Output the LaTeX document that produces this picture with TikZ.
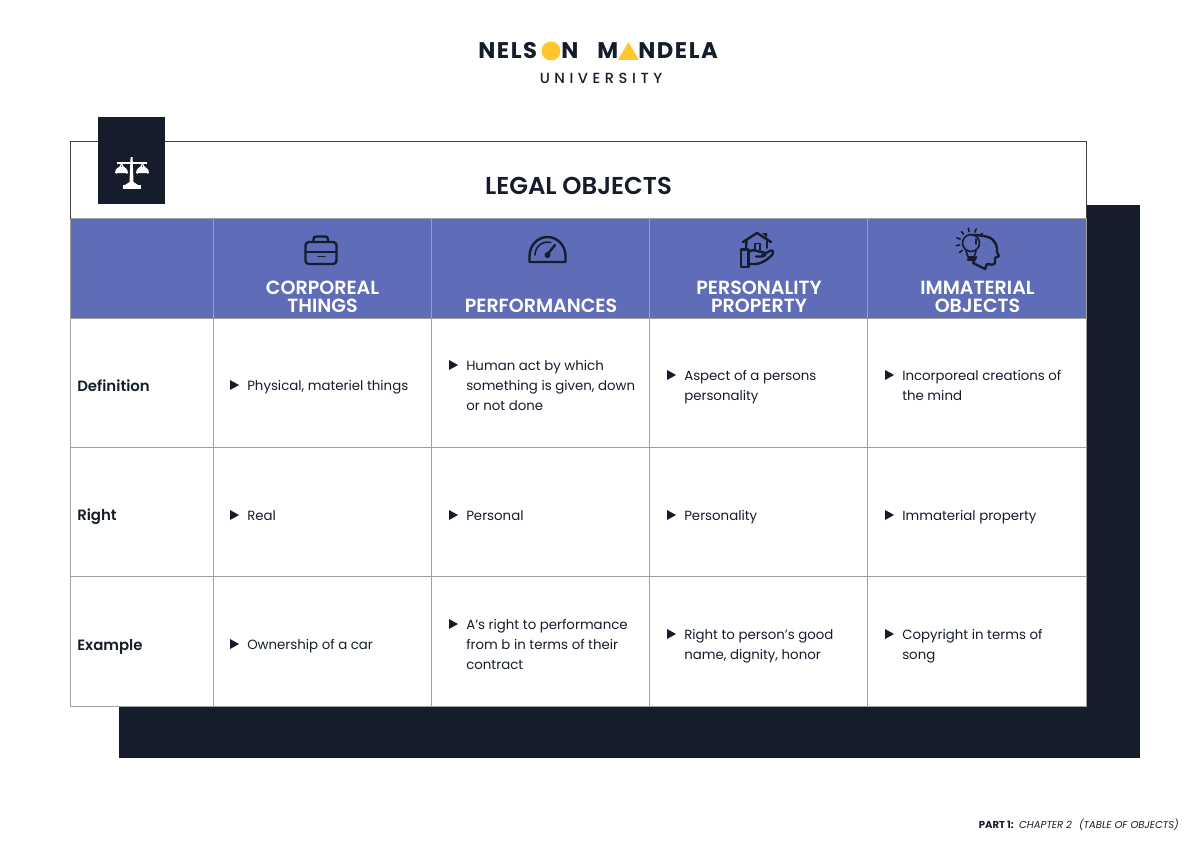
\documentclass[tikz,border=0pt]{standalone}
\usepackage{fontspec}
\setmainfont{Poppins}
\newfontfamily\semi{Poppins SemiBold}
\newfontfamily\medi{Poppins Medium}
\definecolor{navy}{HTML}{151D2C}
\definecolor{hdr}{HTML}{5F6DB8}
\definecolor{gridc}{HTML}{A0A0A0}
\definecolor{gold}{HTML}{FFC72C}
\tikzset{
  body/.style={anchor=west,align=left,inner sep=0pt,text=navy,font=\fontsize{10}{15}\selectfont},
  rowlab/.style={anchor=west,inner sep=0pt,text=navy,font=\fontsize{11.2}{15}\selectfont\semi},
  headtxt/.style={align=center,inner sep=0pt,text=white,font=\fontsize{14.3}{13.6}\selectfont\semi},
  gridline/.style={draw=gridc,line width=0.6pt},
  icon/.style={draw=navy,line width=1.8pt,line cap=round,line join=round},
  logo/.style={inner sep=0pt,text=navy,font=\fontsize{17}{17}\selectfont\bfseries\addfontfeatures{LetterSpace=7}},
  bullet/.style={fill=navy}
}
\newcommand{\tri}[2]{\fill[bullet] (#1,#2-5) -- (#1+9,#2) -- (#1,#2+5) -- cycle;}
\begin{document}
\begin{tikzpicture}[x=0.75pt,y=-0.75pt]
\useasboundingbox (0,0) rectangle (1200,849);
\fill[white] (0,0) rectangle (1200,849);
% backing
\fill[navy] (119,205) rectangle (1140,758);
\fill[white] (70.5,141.5) rectangle (1086.5,706.5);
% header band
\fill[hdr] (70.5,218.5) rectangle (1086.5,318.5);
% title frame
\draw[line width=0.6pt,draw=black!75] (70.5,218.5) -- (70.5,141.5) -- (1086.5,141.5) -- (1086.5,218.5);
% grid
\foreach \y in {218.5,318.5,447.5,576.5,706.5} \draw[gridline] (70.5,\y) -- (1086.5,\y);
\foreach \x in {70.5,213.5,431.5,649.5,867.5,1086.5} \draw[gridline] (\x,218.5) -- (\x,706.5);
% icon box
\fill[navy] (98,117) rectangle (165,204);
% scales
\begin{scope}[draw=white,fill=white]
\fill (130.6,157) -- (132.6,157) -- (133.5,182) -- (138,185) -- (125,185) -- (129.5,182) -- cycle;
\fill (123,185) rectangle (141,188.5);
\draw[line width=1.3pt] (117,163) -- (147,163);
\draw[line width=0.9pt] (121.5,164) -- (116.5,173.5);
\draw[line width=0.9pt] (121.5,164) -- (127,173.5);
\draw[line width=0.9pt] (142.5,164) -- (137,173.5);
\draw[line width=0.9pt] (142.5,164) -- (148,173.5);
\fill (115,173) arc[start angle=180,end angle=0,x radius=6.5,y radius=-6.5] -- cycle;
\fill (136,173) arc[start angle=180,end angle=0,x radius=6.5,y radius=-6.5] -- cycle;
\end{scope}
% logo
\node[logo,anchor=west] (nels) at (478,51) {NELS};
\fill[gold] (551,51) circle[radius=9.5];
\node[logo,anchor=west] (lastn) at (561,51) {N};
\node[logo,anchor=west] (mm) at (597,51) {M};
\fill[gold] (628.5,42) -- (639,60) -- (618,60) -- cycle;
\node[logo,anchor=west] (ndela) at (638,51) {NDELA};
\node[inner sep=0pt,text=navy,font=\fontsize{11}{11}\selectfont\medi\addfontfeatures{LetterSpace=31}] (uni) at (601,78.5) {UNIVERSITY};
% title
\node[inner sep=0pt,text=navy,font=\fontsize{18.3}{18}\selectfont\semi] (title) at (578.5,185.5) {LEGAL OBJECTS};
% column heads
\node[headtxt] (h1) at (322.5,296.5) {CORPOREAL\\THINGS};
\node[headtxt] (h2) at (541,305.5) {PERFORMANCES};
\node[headtxt] (h3) at (759,296.5) {PERSONALITY\\PROPERTY};
\node[headtxt] (h4) at (977.5,296.5) {IMMATERIAL\\OBJECTS};
% briefcase
\draw[icon,rounded corners=2.5pt] (305.5,242) rectangle (336.5,264);
\draw[icon] (305.5,252) -- (336.5,252);
\draw[icon,rounded corners=2pt] (313.5,242) -- (313.5,236.5) -- (328,236.5) -- (328,242);
\draw[icon,line width=1.2pt] (318,256.5) -- (325,256.5);
% gauge
\draw[icon] (529.5,262) -- (565.5,262) -- (565.5,256) arc[start angle=0,end angle=180,x radius=18,y radius=-19] -- cycle;
\draw[icon,line width=1.2pt] (535,255) arc[start angle=180,end angle=75,x radius=12.5,y radius=-13];
\draw[icon] (547,255) -- (555,245);
\fill[navy] (547.5,255) circle[radius=3];
% house in hand
\draw[icon] (741,249.5) rectangle (748.5,267);
\draw[icon] (748.5,252) .. controls (754,248) and (757,252) .. (762,252) .. controls (766,252) and (767,256) .. (762,256.5) -- (756,256.5);
\draw[icon] (762,255) -- (771,250.5) .. controls (774,250) and (773.5,254) .. (771,256) .. controls (766,261) and (760,264) .. (755,264) -- (748.5,264);
\draw[icon] (743,242) -- (757,233) -- (771,242);
\draw[icon] (746.5,241) -- (746,248);
\draw[icon] (767,240) -- (767,248);
\draw[icon,line width=1.2pt] (755,250) -- (755,243.5) -- (760,243.5) -- (760,250);
\fill[navy] (762,233) -- (767,233) -- (767,238) -- cycle;
% head with bulb
\draw[icon] (972,235) .. controls (980,235) and (984,236) .. (988,237) .. controls (995,239) and (998,247) .. (997,252) -- (999,256) -- (995,258) -- (995,263) .. controls (993,266) and (990,264) .. (987,264) -- (985,269) -- (973,263) -- (976,257);
\draw[icon,line width=1.2pt] (971,243) circle[radius=8.5];
\draw[icon,line width=1.2pt] (966,251) -- (968,257) -- (974,257) -- (976,251);
\draw[icon,line width=2pt] (968,259.5) -- (974,259.5);
\foreach \a in {-100,-130,-160,-190,-220,-70,-40} \draw[icon,line width=1.2pt] (971,243) ++(\a:11.5) -- ++(\a:3.5);
\draw[icon,line width=1.2pt] (976,239) -- (976,244);
% row labels
\node[rowlab] (r1) at (77,387) {\strut Definition};
\node[rowlab] (r2) at (77,516.5) {\strut Right};
\node[rowlab] (r3) at (77,646) {\strut Example};
% cells
\tri{230}{385}\node[body] (c11) at (247,386.5) {\strut Physical, materiel things};
\tri{449}{365}\node[body] (c12) at (466,386.5) {\strut Human act by which\\something is given, down\\or not done\strut};
\tri{667}{375}\node[body] (c13) at (684,386.5) {\strut Aspect of a persons\\personality\strut};
\tri{885}{375}\node[body] (c14) at (902,386.5) {\strut Incorporeal creations of\\the mind\strut};
\tri{230}{515}\node[body] (c21) at (247,516) {\strut Real};
\tri{449}{515}\node[body] (c22) at (466,516) {\strut Personal};
\tri{667}{515}\node[body] (c23) at (684,516) {\strut Personality};
\tri{885}{515}\node[body] (c24) at (902,516) {\strut Immaterial property};
\tri{230}{644}\node[body] (c31) at (247,645.5) {\strut Ownership of a car};
\tri{449}{624}\node[body] (c32) at (466,645.5) {\strut A’s right to performance\\from b in terms of their\\contract\strut};
\tri{667}{634}\node[body] (c33) at (684,645.5) {\strut Right to person’s good\\name, dignity, honor\strut};
\tri{885}{634}\node[body] (c34) at (902,645.5) {\strut Copyright in terms of\\song\strut};
% footer
\node[anchor=east,inner sep=0pt,text=navy,font=\fontsize{7.55}{7.55}\selectfont] (foot) at (1179,825) {\textbf{PART 1:}\hspace{4pt}\textit{CHAPTER 2\hspace{3pt} (TABLE OF OBJECTS)}};
\end{tikzpicture}
\end{document}
